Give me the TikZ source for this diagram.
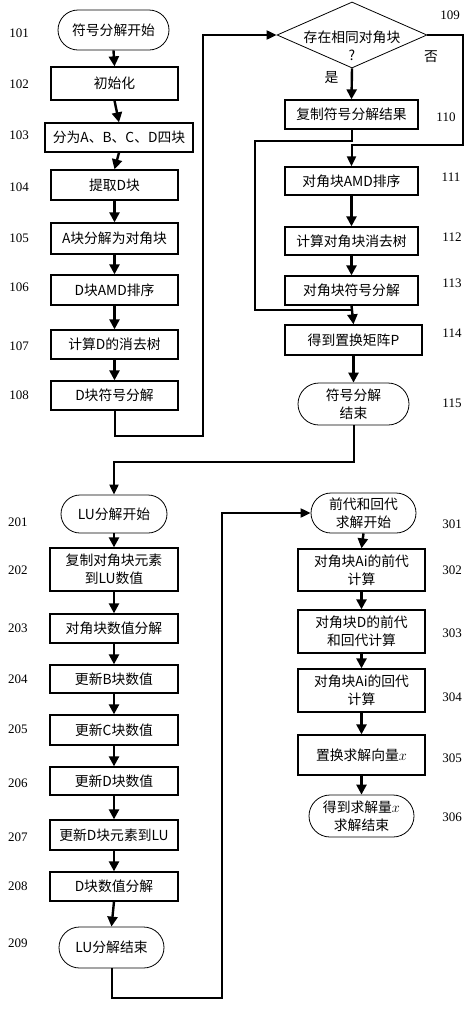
\documentclass[tikz,border=0pt]{standalone}
\usepackage{fontspec}
\setmainfont{Liberation Serif}
\newfontfamily\cjk{Noto Sans CJK SC}
\usetikzlibrary{shapes.geometric,shapes.misc,arrows.meta}

\begin{document}
\begin{tikzpicture}[x=1pt,y=-1pt,
    txt/.style={font=\cjk\fontsize{13.8}{18}\selectfont},
    proc/.style={txt, draw, line width=1.3pt, minimum width=127pt, minimum height=29pt, inner sep=1pt, align=center},
    term/.style={txt, draw, rounded rectangle, line width=0.8pt, minimum width=108pt, minimum height=40pt, inner sep=1pt, align=center},
    num/.style={font=\fontsize{13}{15}\selectfont},
    flow/.style={line width=2pt},
    arr/.style={line width=2.4pt, -{Triangle[length=10pt,width=10pt]}}]
    \useasboundingbox (0,0) rectangle (474,1010);

    %Symbolic decomposition, left column
    \node[term, minimum width=113pt] (s101) at (113.5,30) {符号分解开始};
    \node[proc, minimum height=33pt] (b102) at (114.5,83.5) {初始化};
    \node[proc, minimum width=148pt] (b103) at (119,137.5) {分为A、B、C、D四块};
    \node[proc, minimum height=30pt] (b104) at (114.5,185) {提取D块};
    \node[proc, minimum height=31pt] (b105) at (114.5,238.5) {A块分解为对角块};
    \node[proc, minimum height=30pt] (b106) at (114.5,290) {D块AMD排序};
    \node[proc] (b107) at (114.5,344.5) {计算D的消去树};
    \node[proc] (b108) at (114.5,395.5) {D块符号分解};

    %Symbolic decomposition, right column
    \node[draw, diamond, line width=0.8pt, minimum width=150pt, minimum height=66pt, inner sep=0pt] (d109) at (352,35) {};
    \node[txt, align=center] (t109) at (352,46) {存在相同对角块\\?};
    \node[proc, minimum width=133pt] (b110) at (351.5,114.5) {复制符号分解结果};
    \node[proc, minimum width=133pt, minimum height=28pt] (b111) at (351.5,181) {对角块AMD排序};
    \node[proc, minimum width=133pt, minimum height=28pt] (b112) at (351.5,241) {计算对角块消去树};
    \node[proc, minimum width=133pt] (b113) at (351.5,290.5) {对角块符号分解};
    \node[proc, minimum width=137pt, minimum height=30pt] (b114) at (353.5,340) {得到置换矩阵P};
    \node[term, minimum width=113pt, minimum height=42pt] (s115) at (353.5,404) {符号分解\\结束};

    %LU decomposition
    \node[term, minimum height=38pt] (s201) at (114,514) {LU分解开始};
    \node[proc, minimum width=128pt, minimum height=43pt] (b202) at (114,569.5) {复制对角块元素\\到LU数值};
    \node[proc, minimum width=128pt] (b203) at (114,628.5) {对角块数值分解};
    \node[proc, minimum width=128pt, minimum height=28pt] (b204) at (114,679) {更新B块数值};
    \node[proc, minimum width=128pt, minimum height=30pt] (b205) at (114,730) {更新C块数值};
    \node[proc, minimum width=128pt, minimum height=28pt] (b206) at (114,781) {更新D块数值};
    \node[proc, minimum width=128pt, minimum height=30pt] (b207) at (114,835) {更新D块元素到LU};
    \node[proc, minimum width=128pt] (b208) at (114,886.5) {D块数值分解};
    \node[term, minimum width=107pt, minimum height=41pt] (s209) at (111.5,947.5) {LU分解结束};

    %Forward and backward substitution
    \node[term, minimum width=107pt] (s301) at (363.5,513) {前代和回代\\求解开始};
    \node[proc, minimum height=42pt] (b302) at (361.5,570) {对角块Ai的前代\\计算};
    \node[proc, minimum height=43pt] (b303) at (361.5,631.5) {对角块D的前代\\和回代计算};
    \node[proc, minimum height=43pt] (b304) at (361.5,690.5) {对角块Ai的回代\\计算};
    \node[proc, minimum height=40pt] (b305) at (361.5,755) {置换求解向量$x$};
    \node[term, minimum width=107pt, minimum height=42pt] (s306) at (361.5,816) {得到求解量$x$\\求解结束};

    %Step numbers
    \foreach \n/\px/\py in {101/19/33, 102/19/84, 103/19/135, 104/19/187, 105/19/238,
        106/19/287, 107/19/346, 108/19/395,
        109/450/15, 110/446/117, 111/451/177, 112/452/237, 113/452/283, 114/452/333, 115/452/403,
        201/18/522, 202/18/570, 203/18/628, 204/18/679, 205/18/729, 206/18/783, 207/18/837,
        208/18/886, 209/18/943,
        301/452/524, 302/452/570, 303/452/633, 304/452/697, 305/452/758, 306/452/817}
        \node[num] (n\n) at (\px,\py) {\n};

    %Straight arrows
    \foreach \a/\b in {s101/b102, b102/b103, b103/b104, b104/b105, b105/b106, b106/b107, b107/b108,
        b111/b112, b112/b113, b113/b114, b114/s115,
        s201/b202, b202/b203, b203/b204, b204/b205, b205/b206, b206/b207, b207/b208, b208/s209,
        s301/b302, b302/b303, b303/b304, b304/b305, b305/s306}
        \draw[arr] (\a.south) -- (\b.north);

    %Routed connectors
    \coordinate (c1) at (203,436);
    \draw[flow, -{Triangle[length=10pt,width=9pt]}] (b108.south) |- (c1) |- (d109.west);

    \draw[arr] (d109.south) -- node[txt, pos=0.3, left=9pt] (yes) {是} (b110.north);
    \coordinate (c2) at (463,145);
    \draw[flow, -{Triangle[length=10pt,width=9pt]}] (d109.east) -| (c2) -| (b111.north);
    \node[txt] (no) at (431,57) {否};

    \coordinate (c3) at (255,141);
    \coordinate (c4) at (351.5,310);
    \draw[flow] (b110.south) |- (c3) |- (c4);

    \coordinate (c5) at (114,462);
    \draw[flow, -{Triangle[length=10pt,width=9pt]}] (s115.south) |- (c5) -- (s201.north);

    \coordinate (c6) at (222,998);
    \draw[flow, -{Triangle[length=10pt,width=9pt]}] (s209.south) |- (c6) |- (s301.west);

\end{tikzpicture}
\end{document}
